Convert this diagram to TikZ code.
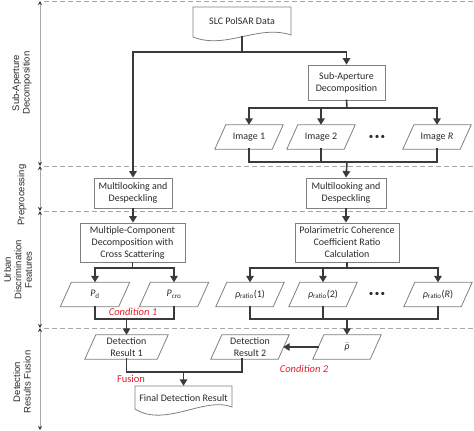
\documentclass[tikz,border=0pt]{standalone}
\usepackage{fontspec}
\setmainfont{Carlito}
\newfontfamily\axfont{Liberation Sans}
\usetikzlibrary{arrows.meta,calc}
\definecolor{connc}{HTML}{3A3A3A}
\definecolor{bord}{HTML}{808080}
\definecolor{dashc}{HTML}{A8A8A8}
\definecolor{redl}{HTML}{E2202C}
\definecolor{txt}{HTML}{2A2A2A}
\newcommand\paral[5]{%
  \node[plain, minimum width=#4, minimum height=24] (#1) at (#2,#3) {#5};
  \draw[outline] (#1.south west) -- ([xshift=11pt]#1.north west) -- (#1.north east) -- ([xshift=-11pt]#1.south east) -- cycle;}
\begin{document}
\begin{tikzpicture}[x=1pt,y=-1pt,
 box/.style={draw=bord, line width=0.8pt, align=center, inner sep=1pt, font=\fontsize{10}{12}\selectfont, text=txt},
 plain/.style={inner sep=0pt, align=center, font=\fontsize{10}{12}\selectfont, text=txt},
 outline/.style={draw=bord, line width=0.8pt},
 flow/.style={draw=connc, line width=1.6pt, line cap=rect},
 arr/.style={draw=connc, line width=1.6pt, -{Triangle[length=6.5pt,width=7.5pt]}},
 sep/.style={draw=dashc, line width=0.8pt, dash pattern=on 5pt off 3pt},
 axis/.style={draw=dashc, line width=0.8pt, {Stealth[length=4pt,width=4pt,connc]}-{Stealth[length=4pt,width=4pt,connc]}},
 axlbl/.style={rotate=90, align=center, font=\axfont\fontsize{9.5}{10.5}\selectfont, text=txt},
 cond/.style={font=\fontsize{10.5}{12}\selectfont\itshape, text=redl, inner sep=0pt},
]
\useasboundingbox (0,0) rectangle (474,431);

% separators
\draw[sep] (44,1) -- (474,1);
\draw[sep] (44,166) -- (474,166);
\draw[sep] (44,211) -- (474,211);
\draw[sep] (44,328) -- (474,328);

% axis
\coordinate (a0) at (40,1);
\coordinate (a1) at (40,166);
\coordinate (a2) at (40,211);
\coordinate (a3) at (40,328);
\coordinate (a4) at (40,430);
\draw[axis] (a0) -- (a1);
\draw[axis] (a1) -- (a2);
\draw[axis] (a2) -- (a3);
\draw[axis] (a3) -- (a4);
\node[axlbl] (lab1) at (22,83) {Sub-Aperture\\Decomposition};
\node[axlbl] (lab2) at (22,195) {Preprocessing};
\node[axlbl] (lab3) at (18,270) {Urban\\Discrimination\\Features};
\node[axlbl] (lab4) at (22,382) {Detection\\Results Fusion};

% SLC document
\node[plain, minimum width=98, minimum height=28] (slc) at (242,21) {SLC PolSAR Data};
\draw[outline] (193,37) -- (193,7) -- (291,7) -- (291,35) .. controls (258,24) and (226,50) .. (193,37);

% boxes
\node[box, minimum width=77, minimum height=35] (sad) at (346.5,82.5) {Sub-Aperture\\Decomposition};
\paral{img1}{249}{137}{68}{Image 1}
\paral{img2}{321}{137}{68}{Image 2}
\paral{imgR}{437}{137}{68}{Image \textit{R}}
\node[plain, font=\fontsize{9}{10}\selectfont] (dots1) at (377,137) {\textbullet\,\textbullet\,\textbullet};

\node[box, minimum width=78, minimum height=30] (ml1) at (133,193) {Multilooking and\\Despeckling};
\node[box, minimum width=80, minimum height=30] (ml2) at (346,193) {Multilooking and\\Despeckling};

\node[box, minimum width=105, minimum height=39] (mcd) at (132.5,242.5) {Multiple-Component\\Decomposition with\\Cross Scattering};
\node[box, minimum width=104, minimum height=39] (pcc) at (347,242.5) {Polarimetric Coherence\\Coefficient Ratio\\Calculation};

\paral{pd}{95}{294.5}{69}{\textit{P}\textsubscript{d}}
\paral{pcro}{174}{294.5}{69}{\textit{P}\textsubscript{cro}}
\paral{rho1}{250}{294.5}{68}{\textit{ρ}\textsubscript{ratio}(1)}
\paral{rho2}{323}{294.5}{68}{\textit{ρ}\textsubscript{ratio}(2)}
\paral{rhoR}{438}{294.5}{68}{\textit{ρ}\textsubscript{ratio}(\textit{R})}
\node[plain, font=\fontsize{9}{10}\selectfont] (dots2) at (377,294.5) {\textbullet\,\textbullet\,\textbullet};

\paral{dr1}{126.5}{347}{83}{Detection\\Result 1}
\paral{dr2}{250}{347}{78}{Detection\\Result 2}
\paral{rhobar}{347}{347}{68}{$\bar{\mbox{\textit{ρ}}}$}

\node[cond] (c1) at (133,312) {Condition 1};
\node[cond] (c2) at (304,369) {Condition 2};
\node[cond, font=\fontsize{10.5}{12}\selectfont] (fu) at (131,379) {Fusion};

% final document
\node[plain, minimum width=97, minimum height=24] (fin) at (183.5,398) {Final Detection Result};
\draw[outline] (135,409) -- (135,386) -- (232,386) -- (232,407) .. controls (205,396) and (165,428) .. (135,409);

% connectors
\coordinate (j1) at (242,52);
\draw[flow] ([yshift=-2pt]slc.south) -- (j1);
\draw[arr] (j1) -| (ml1.north);
\draw[arr] (j1) -| (sad.north);

\coordinate (j2) at (347,108);
\draw[flow] (sad.south) -- (j2);
\draw[flow] (img1 |- j2) -- (imgR |- j2);
\foreach \n in {img1,img2,imgR} \draw[arr] (\n |- j2) -- (\n.north);

\coordinate (j3) at (347,162);
\foreach \n in {img1,img2,imgR} \draw[flow] (\n.south) -- (\n |- j3);
\draw[flow] (img1 |- j3) -- (imgR |- j3);
\draw[arr] (j3) -- (ml2.north);

\draw[arr] (ml1.south) -- (ml1.south |- mcd.north);
\draw[arr] (ml2.south) -- (ml2.south |- pcc.north);

\coordinate (j4) at (133,268);
\draw[flow] (mcd.south) -- (mcd.south |- j4);
\draw[flow] (pd |- j4) -- (pcro |- j4);
\foreach \n in {pd,pcro} \draw[arr] (\n |- j4) -- (\n.north);

\coordinate (j5) at (347,268);
\draw[flow] (pcc.south) -- (j5);
\draw[flow] (rho1 |- j5) -- (rhoR |- j5);
\foreach \n in {rho1,rho2,rhoR} \draw[arr] (\n |- j5) -- (\n.north);

\coordinate (j6) at (127,319);
\draw[flow] (pd.south) -- (pd |- j6) -- (pcro |- j6) -- (pcro.south);
\draw[arr] (dr1 |- j6) -- (dr1.north);

\coordinate (j7) at (347,319);
\foreach \n in {rho1,rho2,rhoR} \draw[flow] (\n.south) -- (\n |- j7);
\draw[flow] (rho1 |- j7) -- (rhoR |- j7);
\draw[arr] (j7) -- (rhobar.north);

\draw[arr] ([xshift=6pt]rhobar.west) -- ([xshift=-6pt]dr2.east);

\coordinate (j8) at (183.5,372);
\draw[flow] (dr1.south) |- ([xshift=-8pt]dr2.south |- j8) -- ([xshift=-8pt]dr2.south);
\draw[arr] (j8) -- (fin.north);
\end{tikzpicture}
\end{document}
